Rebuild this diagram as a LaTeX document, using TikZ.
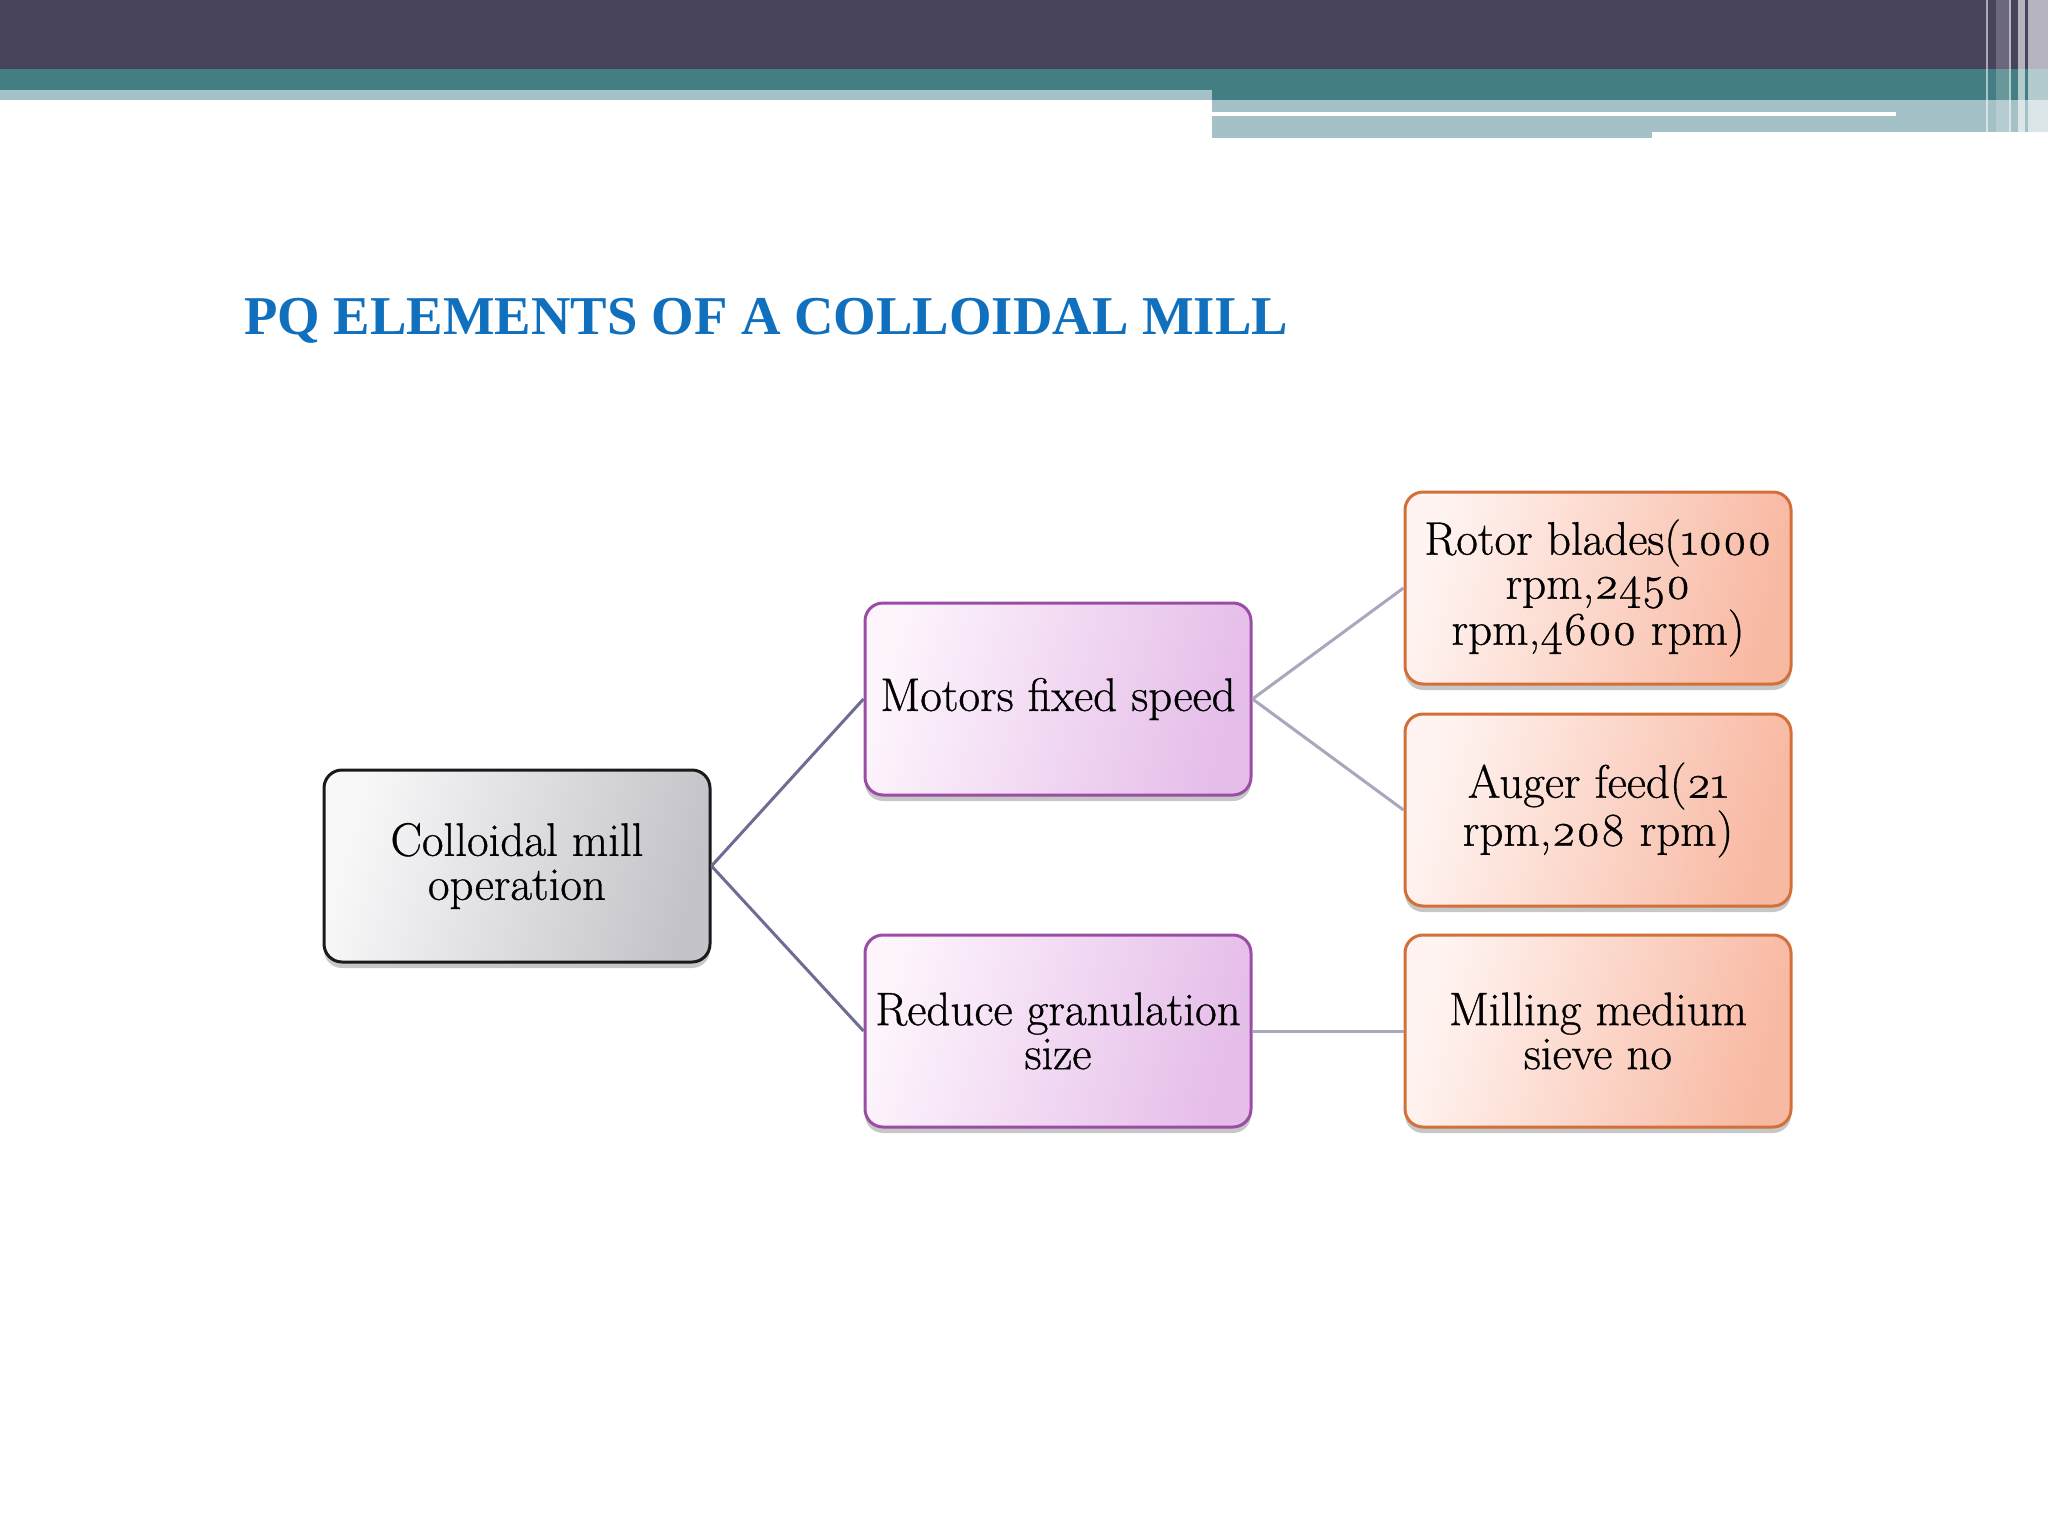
\documentclass[tikz,border=0pt]{standalone}
\usepackage{fontspec}
\setmainfont{Latin Modern Roman}[Numbers=OldStyle]
\newfontfamily\nodefont{Latin Modern Roman}[Numbers=OldStyle, FakeBold=0.7]
\newfontfamily\titlefont{Liberation Serif}
\usetikzlibrary{shadows}
\definecolor{darkbar}{HTML}{46435A}
\definecolor{tealbar}{HTML}{437E84}
\definecolor{lightbar}{HTML}{A3C1C6}
\definecolor{titleblue}{HTML}{1070BE}
\definecolor{greyedge}{HTML}{1A1A1A}
\definecolor{greyA}{HTML}{F8F8F9}
\definecolor{greyB}{HTML}{C4C3C9}
\definecolor{purpedge}{HTML}{9B4DA6}
\definecolor{purpA}{HTML}{FDF4FC}
\definecolor{purpB}{HTML}{E5BDE9}
\definecolor{orgedge}{HTML}{D2703A}
\definecolor{orgA}{HTML}{FFF4F1}
\definecolor{orgB}{HTML}{F8B9A3}
\definecolor{linkA}{HTML}{6F6C94}
\definecolor{linkB}{HTML}{A9A7BC}
\begin{document}
\begin{tikzpicture}[x=1pt,y=-1pt,
  box/.style={rounded corners=18pt, line width=3pt, minimum width=386pt,
    minimum height=192pt, align=center, inner sep=0pt,
    font=\nodefont\fontsize{47}{44}\selectfont,
    drop shadow={shadow xshift=0pt, shadow yshift=-6pt, opacity=0.22, fill=black}},
  greybox/.style={box, draw=greyedge, left color=greyA, right color=greyB, shading angle=75},
  purpbox/.style={box, draw=purpedge, left color=purpA, right color=purpB, shading angle=75},
  orgbox/.style={box, draw=orgedge, left color=orgA, right color=orgB, shading angle=75},
  linkone/.style={draw=linkA, line width=3pt},
  linktwo/.style={draw=linkB, line width=3pt},
  stripe/.style={fill=white, draw=none}
]
\useasboundingbox (0,0) rectangle (2048,1536);
\fill[white] (0,0) rectangle (2048,1536);
% header
\fill[darkbar] (0,0) rectangle (2048,69);
\fill[tealbar] (0,69) rectangle (2048,90);
\fill[lightbar] (0,90) rectangle (1212,100);
\fill[tealbar] (1212,90) rectangle (2048,100);
\fill[lightbar] (1212,100) rectangle (2048,138);
\fill[white] (1212,112) rectangle (1896,116);
\fill[white] (1652,132) rectangle (2048,138);
\fill[stripe, opacity=0.55] (1986,0) rectangle (1988,138);
\fill[stripe, opacity=0.2] (1996,0) rectangle (2009,132);
\fill[stripe, opacity=0.6] (2009,0) rectangle (2011,138);
\fill[stripe, opacity=0.6] (2018,0) rectangle (2025,138);
\fill[stripe, opacity=0.6] (2028,0) rectangle (2048,138);
% title
\node[anchor=base west, inner sep=0pt, text=titleblue,
  font=\titlefont\bfseries\fontsize{54.7}{60}\selectfont] (title) at (244,334)
  {PQ ELEMENTS OF A COLLOIDAL MILL};
% nodes
\node[greybox] (root) at (517,866) {Colloidal mill\\operation};
\node[purpbox] (motor) at (1058,699) {Motors fixed speed};
\node[purpbox] (reduce) at (1058,1031) {Reduce granulation\\size};
\node[orgbox] (rotor) at (1598,588) {Rotor blades(1000\\rpm,2450\\rpm,4600 rpm)};
\node[orgbox] (auger) at (1598,810) {Auger feed(21\\rpm,208 rpm)};
\node[orgbox] (sieve) at (1598,1031) {Milling medium\\sieve no};
% connectors
\draw[linkone] (root.east) -- (motor.west);
\draw[linkone] (root.east) -- (reduce.west);
\draw[linktwo] (motor.east) -- (rotor.west);
\draw[linktwo] (motor.east) -- (auger.west);
\draw[linktwo] (reduce.east) -- (sieve.west);
\end{tikzpicture}
\end{document}
